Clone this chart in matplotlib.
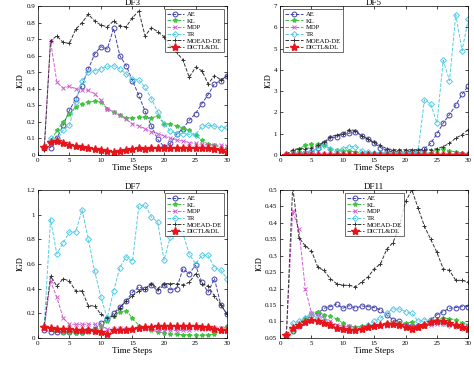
import numpy as np
import matplotlib
matplotlib.use("Agg")
import matplotlib.pyplot as plt

plt.rcParams["font.family"] = ["Liberation Serif", "DejaVu Serif"]

steps = np.arange(1, 31)
methods = ["AE", "KL", "MDP", "TR", "MOEAD-DE", "DICTL&DL"]

# DF3
df3_ae = [0.04, 0.045, 0.10, 0.18, 0.27, 0.34, 0.42, 0.52, 0.61, 0.655, 0.64, 0.765, 0.60, 0.54, 0.45,
          0.36, 0.265, 0.175, 0.095, 0.05, 0.07, 0.125, 0.16, 0.21, 0.25, 0.31, 0.365, 0.43, 0.45, 0.48]
df3_kl = [0.05, 0.08, 0.15, 0.20, 0.25, 0.29, 0.31, 0.32, 0.325, 0.32, 0.28, 0.26, 0.24, 0.225, 0.225,
          0.228, 0.23, 0.225, 0.235, 0.19, 0.19, 0.175, 0.165, 0.15, 0.12, 0.09, 0.065, 0.06, 0.045, 0.04]
df3_mdp = [0.05, 0.69, 0.44, 0.405, 0.415, 0.40, 0.395, 0.39, 0.37, 0.33, 0.28, 0.26, 0.24, 0.215, 0.19,
           0.175, 0.16, 0.14, 0.13, 0.115, 0.10, 0.09, 0.085, 0.075, 0.07, 0.065, 0.06, 0.06, 0.06, 0.055]
df3_tr = [0.05, 0.10, 0.09, 0.15, 0.18, 0.32, 0.45, 0.50, 0.51, 0.52, 0.535, 0.54, 0.52, 0.49, 0.46,
          0.455, 0.41, 0.34, 0.26, 0.19, 0.145, 0.13, 0.13, 0.125, 0.12, 0.175, 0.18, 0.175, 0.165, 0.17]
df3_moead = [0.03, 0.69, 0.72, 0.68, 0.675, 0.76, 0.80, 0.85, 0.81, 0.785, 0.775, 0.81, 0.78, 0.775, 0.83,
             0.87, 0.72, 0.77, 0.745, 0.715, 0.66, 0.62, 0.575, 0.47, 0.53, 0.51, 0.43, 0.48, 0.455, 0.475]
df3_dictl = [0.05, 0.08, 0.085, 0.075, 0.06, 0.055, 0.05, 0.045, 0.035, 0.03, 0.025, 0.02, 0.025, 0.03, 0.035,
             0.04, 0.038, 0.04, 0.04, 0.04, 0.04, 0.045, 0.042, 0.04, 0.045, 0.045, 0.04, 0.035, 0.03, 0.02]

# DF5
df5_ae = [0.02, 0.05, 0.08, 0.10, 0.15, 0.35, 0.55, 0.80, 0.85, 1.00, 1.02, 1.10, 0.90, 0.75, 0.55,
          0.35, 0.20, 0.15, 0.15, 0.15, 0.15, 0.20, 0.30, 0.55, 1.00, 1.50, 1.90, 2.35, 2.85, 3.25]
df5_kl = [0.05, 0.20, 0.30, 0.45, 0.50, 0.50, 0.45, 0.30, 0.25, 0.20, 0.20, 0.15, 0.10, 0.10, 0.10,
          0.10, 0.10, 0.10, 0.10, 0.10, 0.10, 0.10, 0.10, 0.10, 0.25, 0.30, 0.20, 0.15, 0.10, 0.05]
df5_mdp = [0.03, 0.05, 0.06, 0.06, 0.06, 0.06, 0.06, 0.06, 0.06, 0.05, 0.05, 0.05, 0.05, 0.05, 0.05,
           0.05, 0.05, 0.05, 0.05, 0.05, 0.05, 0.05, 0.05, 0.05, 0.05, 0.05, 0.05, 0.05, 0.05, 0.05]
df5_tr = [0.02, 0.05, 0.10, 0.10, 0.20, 0.30, 0.45, 0.30, 0.20, 0.30, 0.40, 0.40, 0.20, 0.15, 0.10,
          0.10, 0.10, 0.10, 0.10, 0.10, 0.10, 0.20, 2.60, 2.40, 1.50, 4.45, 3.50, 6.60, 4.90, 6.40]
df5_moead = [0.02, 0.25, 0.30, 0.30, 0.35, 0.45, 0.60, 0.85, 0.95, 1.00, 1.20, 1.15, 0.90, 0.75, 0.60,
             0.45, 0.30, 0.25, 0.25, 0.25, 0.25, 0.25, 0.25, 0.25, 0.30, 0.40, 0.55, 0.80, 0.95, 1.20]
df5_dictl = [0.02] * 30

# DF7
df7_ae = [0.06, 0.05, 0.05, 0.05, 0.05, 0.05, 0.05, 0.06, 0.07, 0.12, 0.15, 0.20, 0.25, 0.30, 0.37,
          0.41, 0.40, 0.43, 0.38, 0.43, 0.39, 0.40, 0.56, 0.52, 0.59, 0.45, 0.37, 0.48, 0.27, 0.19]
df7_kl = [0.08, 0.07, 0.06, 0.05, 0.05, 0.04, 0.04, 0.05, 0.07, 0.10, 0.14, 0.18, 0.21, 0.22, 0.16,
          0.10, 0.08, 0.06, 0.05, 0.04, 0.03, 0.03, 0.025, 0.025, 0.02, 0.02, 0.025, 0.03, 0.06, 0.10]
df7_mdp = [0.08, 0.46, 0.33, 0.16, 0.11, 0.11, 0.11, 0.11, 0.11, 0.10, 0.07, 0.07, 0.08, 0.07, 0.07,
           0.07, 0.07, 0.07, 0.06, 0.06, 0.06, 0.06, 0.06, 0.06, 0.07, 0.07, 0.07, 0.08, 0.08, 0.08]
df7_tr = [0.10, 0.96, 0.68, 0.77, 0.86, 0.86, 1.04, 0.80, 0.54, 0.33, 0.16, 0.38, 0.57, 0.66, 0.62,
          1.07, 1.08, 0.98, 0.94, 0.63, 0.82, 0.90, 0.85, 0.68, 0.60, 0.67, 0.67, 0.57, 0.55, 0.48]
df7_moead = [0.10, 0.50, 0.42, 0.48, 0.46, 0.38, 0.38, 0.26, 0.26, 0.19, 0.16, 0.18, 0.24, 0.30, 0.34,
             0.38, 0.40, 0.44, 0.40, 0.44, 0.44, 0.44, 0.43, 0.45, 0.52, 0.44, 0.42, 0.34, 0.27, 0.19]
df7_dictl = [0.09, 0.08, 0.075, 0.075, 0.07, 0.065, 0.065, 0.06, 0.055, 0.045, 0.03, 0.06, 0.06, 0.065, 0.075,
             0.08, 0.09, 0.09, 0.095, 0.095, 0.095, 0.10, 0.10, 0.10, 0.095, 0.09, 0.085, 0.075, 0.06, 0.065]

# DF11
df11_ae = [0.06, 0.07, 0.085, 0.10, 0.12, 0.125, 0.14, 0.145, 0.153, 0.14, 0.148, 0.14, 0.147, 0.145, 0.142,
           0.135, 0.12, 0.105, 0.10, 0.09, 0.085, 0.085, 0.09, 0.105, 0.12, 0.13, 0.14, 0.142, 0.145, 0.145]
df11_kl = [0.06, 0.075, 0.09, 0.11, 0.125, 0.13, 0.12, 0.115, 0.108, 0.095, 0.085, 0.083, 0.085, 0.088, 0.09,
           0.09, 0.095, 0.095, 0.095, 0.095, 0.098, 0.08, 0.085, 0.10, 0.105, 0.11, 0.108, 0.105, 0.095, 0.09]
df11_mdp = [0.06, 0.435, 0.38, 0.20, 0.125, 0.12, 0.11, 0.10, 0.09, 0.085, 0.085, 0.08, 0.082, 0.083, 0.085,
            0.085, 0.087, 0.088, 0.088, 0.086, 0.085, 0.085, 0.087, 0.09, 0.092, 0.092, 0.09, 0.088, 0.085, 0.085]
df11_tr = [0.06, 0.095, 0.10, 0.11, 0.12, 0.11, 0.10, 0.09, 0.08, 0.078, 0.075, 0.078, 0.08, 0.09, 0.10,
           0.11, 0.125, 0.138, 0.138, 0.13, 0.125, 0.10, 0.105, 0.105, 0.10, 0.095, 0.09, 0.085, 0.08, 0.08]
df11_moead = [0.06, 0.51, 0.355, 0.33, 0.315, 0.265, 0.255, 0.23, 0.215, 0.21, 0.21, 0.205, 0.22, 0.235, 0.26,
              0.275, 0.32, 0.34, 0.39, 0.465, 0.50, 0.445, 0.39, 0.35, 0.31, 0.26, 0.255, 0.225, 0.225, 0.22]
df11_dictl = [0.06, 0.08, 0.088, 0.098, 0.103, 0.10, 0.095, 0.09, 0.08, 0.076, 0.074, 0.075, 0.078, 0.082, 0.085,
              0.088, 0.092, 0.093, 0.088, 0.082, 0.078, 0.082, 0.09, 0.098, 0.10, 0.10, 0.095, 0.088, 0.082, 0.078]

styles = [
    dict(color="#4040b0", marker="o", mfc="none", ms=3.5, mew=0.7),
    dict(color="#3ec43e", marker="*", ms=3),
    dict(color="#d060d0", marker="x", ms=2.5, mew=0.7),
    dict(color="#55cce6", marker="D", mfc="none", ms=3, mew=0.7),
    dict(color="#333333", marker="+", ms=3.5, mew=0.7),
    dict(color="#e8141c", marker="*", ms=6),
]

panels = [
    ("DF3", [df3_ae, df3_kl, df3_mdp, df3_tr, df3_moead, df3_dictl], (0, 0.9), np.arange(0, 0.91, 0.1), "upper right"),
    ("DF5", [df5_ae, df5_kl, df5_mdp, df5_tr, df5_moead, df5_dictl], (0, 7), np.arange(0, 8, 1), "upper left"),
    ("DF7", [df7_ae, df7_kl, df7_mdp, df7_tr, df7_moead, df7_dictl], (0, 1.2), np.arange(0, 1.21, 0.2), "upper right"),
    ("DF11", [df11_ae, df11_kl, df11_mdp, df11_tr, df11_moead, df11_dictl], (0.05, 0.5), np.arange(0.05, 0.51, 0.05), "upper center"),
]

rects = [
    [0.080, 0.592, 0.399, 0.392],
    [0.591, 0.592, 0.397, 0.392],
    [0.080, 0.111, 0.399, 0.389],
    [0.591, 0.111, 0.397, 0.389],
]

fig = plt.figure(figsize=(4.74, 3.8), dpi=100)

for rect, (title, series, ylim, yticks, loc) in zip(rects, panels):
    ax = fig.add_axes(rect)
    for name, vals, st in zip(methods, series, styles):
        ax.plot(steps, vals, linestyle="--", linewidth=0.7, label=name, **st)
    ax.set_xlim(0, 30)
    ax.set_ylim(*ylim)
    ax.set_xticks([0, 5, 10, 15, 20, 25, 30])
    ax.set_yticks(yticks)
    ax.set_yticklabels([f"{v:g}" for v in np.round(yticks, 2)])
    ax.tick_params(direction="in", labelsize=5, length=2, width=0.5, top=True, right=True, pad=2)
    for sp in ax.spines.values():
        sp.set_linewidth(0.5)
    ax.set_title(title, fontsize=6.5, pad=1)
    ax.set_xlabel("Time Steps", fontsize=6.5, labelpad=1)
    ax.set_ylabel("IGD", fontsize=6, labelpad=1)
    leg = ax.legend(loc=loc, fontsize=4.8, frameon=True, fancybox=False, edgecolor="black",
                    handlelength=2.6, borderpad=0.3, labelspacing=0.15, handletextpad=0.4)
    leg.get_frame().set_linewidth(0.5)

fig.savefig("out.png", dpi=100)
